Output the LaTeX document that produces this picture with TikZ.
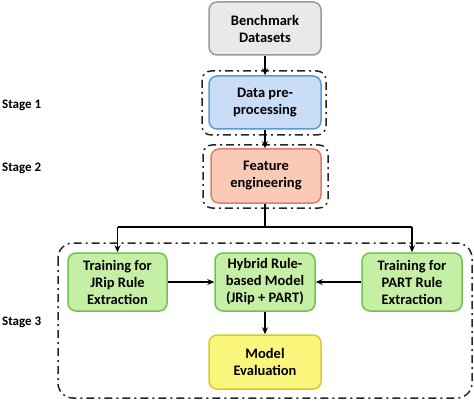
\documentclass[tikz,border=0pt]{standalone}
\usepackage{fontspec}
\setmainfont{Carlito}
\usetikzlibrary{arrows.meta}
\definecolor{grayfill}{HTML}{E9E9E9}
\definecolor{grayline}{HTML}{9A9A9A}
\definecolor{bluefill}{HTML}{C9DEF6}
\definecolor{blueline}{HTML}{5B9BD5}
\definecolor{salfill}{HTML}{F9CBB6}
\definecolor{salline}{HTML}{D9826A}
\definecolor{grnfill}{HTML}{C6EFA6}
\definecolor{grnline}{HTML}{6FC24E}
\definecolor{yelfill}{HTML}{FAF67C}
\definecolor{yelline}{HTML}{D6CC2C}
\tikzset{
  x=1pt,y=-1pt,
  stepbox/.style={draw, line width=1.5pt, rounded corners=8pt, align=center,
    font=\fontsize{14.5}{17}\selectfont\bfseries, inner sep=0pt},
  stagebox/.style={draw=black!85, line width=1.5pt, dash pattern=on 8pt off 4pt on 2pt off 4pt},
  conn/.style={draw, line width=1.8pt, -{Stealth[length=7pt,width=6pt]}},
  plain/.style={draw, line width=1.8pt},
  stagelabel/.style={anchor=west, font=\fontsize{13}{15}\selectfont\bfseries, inner sep=0pt}
}
\begin{document}
\begin{tikzpicture}
\useasboundingbox (0,0) rectangle (474,401);
% stage frames
\draw[stagebox, rounded corners=9pt] (202,71) rectangle (326,135);
\draw[stagebox, rounded corners=9pt] (203,145) rectangle (328,208);
\draw[stagebox, rounded corners=15pt] (58,243) rectangle (472,398);
% nodes
\node[stepbox, fill=grayfill, draw=grayline, minimum width=112pt, minimum height=53pt] (bench) at (265,28.5) {Benchmark\\Datasets};
\node[stepbox, fill=bluefill, draw=blueline, minimum width=112pt, minimum height=53pt] (pre) at (265,102.5) {Data pre-\\processing};
\node[stepbox, fill=salfill, draw=salline, minimum width=110pt, minimum height=54pt] (feat) at (266,176) {Feature\\engineering};
\node[stepbox, fill=grnfill, draw=grnline, minimum width=99pt, minimum height=58pt] (jrip) at (117.5,282) {Training for\\JRip Rule\\Extraction};
\node[stepbox, fill=grnfill, draw=grnline, minimum width=100pt, minimum height=58pt] (hyb) at (265,282) {Hybrid Rule-\\based Model\\(JRip + PART)};
\node[stepbox, fill=grnfill, draw=grnline, minimum width=100pt, minimum height=58pt] (part) at (412,282) {Training for\\PART Rule\\Extraction};
\node[stepbox, fill=yelfill, draw=yelline, minimum width=112pt, minimum height=54pt] (eval) at (265,362) {Model\\Evaluation};
% stage labels
\node[stagelabel] (s1) at (2,105) {Stage 1};
\node[stagelabel] (s2) at (2,168) {Stage 2};
\node[stagelabel] (s3) at (2,322) {Stage 3};
% connectors
\coordinate (split) at (265,227);
\coordinate (splitL) at (117.5,227);
\coordinate (splitR) at (412,227);
\draw[conn] (bench) -- (pre);
\draw[conn] (pre.south) -- (pre.south |- feat.north);
\draw[plain] (feat.south -| split) -- (split);
\draw[plain] (splitL) -- (splitR);
\draw[conn] (splitL) -- (jrip.north);
\draw[conn] (splitR) -- (part.north);
\draw[conn] (jrip) -- (hyb);
\draw[conn] (part) -- (hyb);
\draw[conn] (hyb) -- (eval);
\end{tikzpicture}
\end{document}
